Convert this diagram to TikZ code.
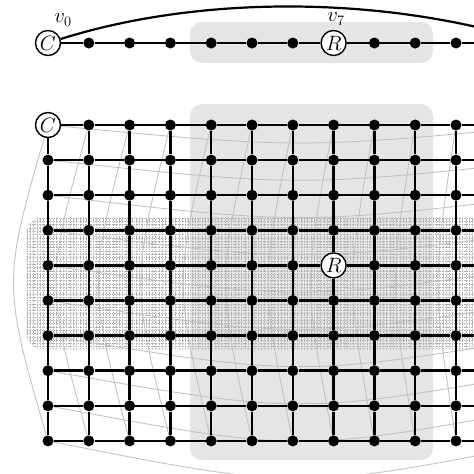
\documentclass[tikz,border=0pt]{standalone}
\usetikzlibrary{calc}
\begin{document}
\tikzset{
  vdot/.style={circle,fill=black,inner sep=0pt,minimum size=11pt},
  special/.style={circle,draw=black,fill=white,line width=1.4pt,inner sep=0pt,minimum size=25pt,font=\fontsize{22}{24}\selectfont},
  lbl/.style={inner sep=0pt,font=\fontsize{22}{24}\selectfont},
  edge/.style={line width=2.5pt,black},
  warp/.style={gray!50,line width=0.8pt},
  region/.style={fill=gray!20,rounded corners=12pt},
  dotline/.style={gray!60,line width=0.55pt,dash pattern=on 0.6pt off 1.1pt},
}
\begin{tikzpicture}[x=1pt,y=-1pt]
\clip (0,0) rectangle (474,474);
\fill[white] (0,0) rectangle (474,474);
% grey regions
\fill[region] (190,22) rectangle (433,63);
\fill[region] (190,104) rectangle (433,460);
% dotted pattern region
\begin{scope}
  \clip[rounded corners=15pt] (27,218) rectangle (520,349);
  \foreach \k in {0,...,40} { \draw[dotline] (20,218+\k*3.3) -- (520,218+\k*3.3); }
  \foreach \k in {0,...,140} { \draw[dotline] (27+\k*3.3,210) -- (27+\k*3.3,355); }
\end{scope}
\draw[gray!80,dotted,line width=0.6pt,rounded corners=15pt] (27,218) rectangle (520,349);
% warped background grid
\foreach \i in {0,...,9} {
  \pgfmathsetmacro\yy{125+35.1*\i}
  \pgfmathsetmacro\dd{12+13*\i/9}
  \coordinate (wa-\i) at (48,\yy);
  \coordinate (wc-\i) at (300,\yy+2*\dd);
  \coordinate (wb-\i) at (552,\yy);
  \draw[warp] (wa-\i) .. controls (wc-\i) .. (wb-\i);
}
\foreach \j in {0,...,10} {
  \pgfmathsetmacro\xx{48+40.8*\j}
  \pgfmathsetmacro\bb{23-11*\j/10}
  \coordinate (va-\j) at (\xx,125);
  \coordinate (vc-\j) at (\xx-2*\bb,283);
  \coordinate (vb-\j) at (\xx,441);
  \draw[warp] (va-\j) .. controls (vc-\j) .. (vb-\j);
}
% top strip
\foreach \j in {0,...,10} {
  \pgfmathsetmacro\xx{48+40.8*\j}
  \ifnum\j=0
    \node[special] (t-\j) at (\xx,43) {$C$};
  \else\ifnum\j=7
    \node[special] (t-\j) at (\xx,43) {$R$};
  \else
    \node[vdot] (t-\j) at (\xx,43) {};
  \fi\fi
}
\coordinate (tend) at (490,43);
\coordinate (arcend) at (536,43);
\foreach \j [evaluate=\j as \jn using int(\j+1)] in {0,...,9} {
  \draw[edge] (t-\j) -- (t-\jn);
}
\draw[edge] (t-10) -- (tend);
\draw[line width=2.2pt] (t-0) .. controls (200,-5) and (384,-5) .. (arcend);
\node[lbl] (lv0) at (63,20) {$v_0$};
\node[lbl] (lv7) at (336,19) {$v_7$};
% grid
\foreach \i in {0,...,9} {
  \foreach \j in {0,...,10} {
    \pgfmathsetmacro\xx{48+40.8*\j}
    \pgfmathsetmacro\yy{125+35.1*\i}
    \pgfmathtruncatemacro\s{(\i==0 && \j==0) ? 1 : ((\i==4 && \j==7) ? 2 : 0)}
    \ifcase\s
      \node[vdot] (n-\i-\j) at (\xx,\yy) {};
    \or
      \node[special] (n-\i-\j) at (\xx,\yy) {$C$};
    \or
      \node[special] (n-\i-\j) at (\xx,\yy) {$R$};
    \fi
  }
  \coordinate (e-\i) at (490,125+35.1*\i);
}
\foreach \i in {0,...,9} {
  \foreach \j [evaluate=\j as \jn using int(\j+1)] in {0,...,9} {
    \draw[edge] (n-\i-\j) -- (n-\i-\jn);
  }
  \draw[edge] (n-\i-10) -- (e-\i);
}
\foreach \j in {0,...,10} {
  \foreach \i [evaluate=\i as \in using int(\i+1)] in {0,...,8} {
    \draw[edge] (n-\i-\j) -- (n-\in-\j);
  }
}
\end{tikzpicture}
\end{document}
